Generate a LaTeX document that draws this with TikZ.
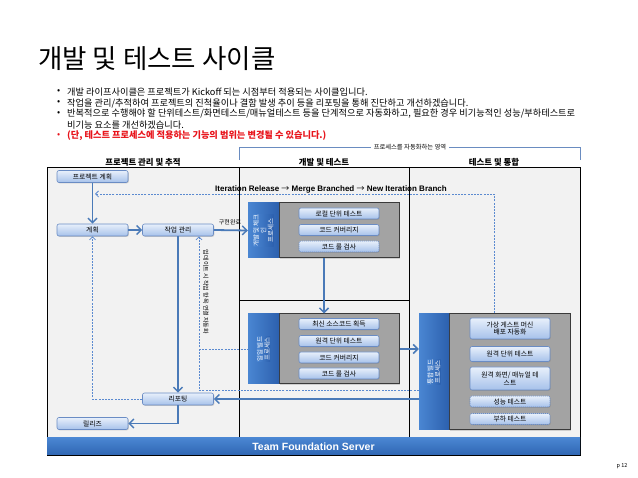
\documentclass[tikz,border=0pt]{standalone}
\usepackage{fontspec}
\setmainfont{Noto Sans CJK KR}
\newfontfamily\lat{Liberation Sans}
\usetikzlibrary{arrows.meta,shadows,calc}
\definecolor{boxtop}{HTML}{E8F0FB}
\definecolor{boxbot}{HTML}{A6C1EA}
\definecolor{boxborder}{HTML}{6A8CC4}
\definecolor{bandl}{HTML}{4A86D2}
\definecolor{bandr}{HTML}{2C60AE}
\definecolor{grayfill}{HTML}{A3A3A3}
\definecolor{grayedge}{HTML}{3A3A3A}
\definecolor{arrowcol}{HTML}{4A7AB8}
\definecolor{dashcol}{HTML}{5B8AD0}
\definecolor{bgcol}{HTML}{F2F2F2}
\definecolor{redtxt}{HTML}{E8141B}
\definecolor{barcol}{HTML}{2F66B3}
\definecolor{bracketcol}{HTML}{6A8CC0}
\tikzset{
  box/.style={draw=boxborder, line width=0.6pt, rounded corners=2pt, top color=boxtop, bottom color=boxbot,
    minimum width=80pt, minimum height=11pt, inner sep=0pt, align=center,
    font=\fontsize{6.8}{7.6}\selectfont,
    drop shadow={shadow xshift=0.8pt, shadow yshift=-0.8pt, opacity=0.35}},
  lbox/.style={box, minimum width=71pt, minimum height=12pt},
  optbox/.style={box, dash pattern=on 1.2pt off 0.8pt},
  band/.style={draw=none, left color=bandl, right color=bandr, inner sep=0pt, text=white,
    font=\fontsize{6.5}{7.3}\selectfont, align=center},
  graybox/.style={draw=grayedge, fill=grayfill, line width=1pt, inner sep=0pt,
    drop shadow={shadow xshift=1pt, shadow yshift=-1pt, opacity=0.3}},
  solidarr/.style={draw=arrowcol, line width=1.8pt, -{Straight Barb[length=4.5pt,width=9pt,line width=1.5pt]}},
  solidln/.style={draw=arrowcol, line width=1.8pt},
  dasharr/.style={draw=dashcol, line width=0.8pt, dash pattern=on 2pt off 1.2pt, -{Straight Barb[length=3pt,width=6pt]}},
  dashln/.style={draw=dashcol, line width=0.8pt, dash pattern=on 2pt off 1.2pt},
  hdr/.style={font=\fontsize{8.4}{9}\selectfont\bfseries, inner sep=0pt},
  bullet/.style={anchor=west, inner sep=0pt, font=\fontsize{9.2}{10.5}\selectfont},
}
\begin{document}
\begin{tikzpicture}[x=1pt,y=-1pt]
\useasboundingbox (0,0) rectangle (638,478);
\fill[white] (0,0) rectangle (638,478);

% title
\node[anchor=west, inner sep=0pt, font=\fontsize{26.5}{30}\selectfont] (title) at (38,59) {개발 및 테스트 사이클};

% bullets
\node[bullet] (b1d) at (57,92) {•};
\node[bullet] (b1) at (67,92) {개발 라이프사이클은 프로젝트가 Kickoff 되는 시점부터 적용되는 사이클입니다.};
\node[bullet] (b2d) at (57,103) {•};
\node[bullet] (b2) at (67,103) {작업을 관리/추적하여 프로젝트의 진척율이나 결함 발생 추이 등을 리포팅을 통해 진단하고 개선하겠습니다.};
\node[bullet] (b3d) at (57,114) {•};
\node[bullet] (b3) at (67,114) {반복적으로 수행해야 할 단위테스트/화면테스트/매뉴얼테스트 등을 단계적으로 자동화하고, 필요한 경우 비기능적인 성능/부하테스트로};
\node[bullet] (b3b) at (67,125) {비기능 요소를 개선하겠습니다.};
\node[bullet, text=redtxt] (b4d) at (57,136) {•};
\node[bullet, text=redtxt, font=\fontsize{9.2}{10.5}\selectfont\bfseries] (b4) at (67,136) {(단, 테스트 프로세스에 적용하는 기능의 범위는 변경될 수 있습니다.)};

% bracket
\draw[bracketcol, line width=0.8pt] (239,160) -- (239,147) -- (580,147) -- (580,160);
\node[fill=white, inner xsep=3pt, inner ysep=1pt, font=\fontsize{6.3}{7}\selectfont] (brk) at (410,147) {프로세스를 자동화하는 영역};

% headers
\node[hdr] (h1) at (143,162) {프로젝트 관리 및 추적};
\node[hdr] (h2) at (324,162) {개발 및 테스트};
\node[hdr] (h3) at (494,162) {테스트 및 통합};

% frame
\draw[fill=bgcol, line width=0.8pt] (47,167) rectangle (580,455);
\draw[line width=0.8pt] (239,167) -- (239,438);
\draw[line width=0.8pt] (409,167) -- (409,438);
\draw[line width=0.8pt] (239,300) -- (409,300);

% bottom bar
\node[top color=bandl, bottom color=barcol, minimum width=533pt, minimum height=17pt, inner sep=0pt,
  text=white, font=\lat\fontsize{10.5}{12}\selectfont\bfseries] (tfs) at (313.5,446.5) {Team Foundation Server};

% iteration text
\node[font=\lat\fontsize{8}{9}\selectfont\bfseries, inner sep=0pt] (iter) at (331,189)
  {Iteration Release {\mdseries\fontspec{Noto Sans CJK KR}→} Merge Branched {\mdseries\fontspec{Noto Sans CJK KR}→}  New Iteration Branch};

% left column nodes
\node[lbox] (plan0) at (92.5,176.5) {프로젝트 계획};
\node[lbox] (plan) at (92.5,230) {계획};
\node[lbox] (task) at (178,230) {작업 관리};
\node[lbox] (report) at (178,399) {리포팅};
\node[lbox] (release) at (92.5,423.5) {릴리즈};

% dev & check-in group
\node[graybox, minimum width=120pt, minimum height=55pt] (devgray) at (339,230.5) {};
\node[band, minimum width=31pt, minimum height=55pt] (devband) at (263.5,230.5) {};
\node[band, rotate=90] (devtxt) at (devband.center) {개발 및 체크\\인\\프로세스};
\node[box] (d1) at (339,213.5) {로컬 단위 테스트};
\node[box] (d2) at (339,230) {코드 커버리지};
\node[optbox] (d3) at (339,246.5) {코드 룰 검사};

% daily build group
\node[graybox, minimum width=120pt, minimum height=70pt] (dailygray) at (339,349) {};
\node[band, minimum width=31pt, minimum height=70pt] (dailyband) at (263.5,349) {};
\node[band, rotate=90] (dailytxt) at (dailyband.center) {일일 빌드\\프로세스};
\node[box] (e1) at (339,324) {최신 소스코드 획득};
\node[box] (e2) at (339,341) {원격 단위 테스트};
\node[box] (e3) at (339,357.5) {코드 커버리지};
\node[box] (e4) at (339,373.5) {코드 룰 검사};

% integration build group
\node[graybox, minimum width=121pt, minimum height=116pt] (intgray) at (509.5,372) {};
\node[band, minimum width=30pt, minimum height=116pt] (intband) at (434,372) {};
\node[band, rotate=90] (inttxt) at (intband.center) {통합 빌드\\프로세스};
\node[box, minimum height=21pt] (f1) at (510,328.5) {가상 게스트 머신\\배포 자동화};
\node[box, minimum height=15pt] (f2) at (510,354) {원격 단위 테스트};
\node[box, minimum height=23pt] (f3) at (510,378.5) {원격 화면/ 매뉴얼 테\\스트};
\node[optbox] (f4) at (510,401.5) {성능 테스트};
\node[optbox] (f5) at (510,419) {부하 테스트};

% helper coordinates
\coordinate (cx) at (324,0);
\coordinate (dx) at (199,390);
\coordinate (ix) at (494,194);
\coordinate (ex) at (95,194);

% dashed connectors
\draw[dasharr] (intgray.north -| ix) -- (ix) -- (ex);
\draw[dasharr] (report.west) -| (plan.south);
\draw[dasharr] (intband.west |- dx) -- (dx) -- (dx |- task.south);
\draw[dashln] (dx |- dailyband.west) -- (dailyband.west);
\node[rotate=-90, inner sep=0pt, font=\fontsize{6}{7}\selectfont] (vtxt) at (206,292) {업데이트 시 작업 항목 연결 자동화};

% solid connectors
\draw[solidarr] (plan0.south) -- (plan.north);
\draw[solidarr] (plan.east) -- (task.west);
\draw[solidarr] (task.east) -- (devband.west);
\node[inner sep=0pt, font=\fontsize{6}{7}\selectfont] (lbl) at (230,222.5) {구현완료};
\draw[solidarr] (devgray.south -| cx) -- (dailygray.north -| cx);
\draw[solidarr] (dailygray.east) -- (dailygray.east -| intband.west);
\draw[solidarr] (task.south) -- (report.north);
\draw[solidarr] (intband.west |- report.east) -- (report.east);
\draw[solidarr] (report.south) |- (release.east);

% page number
\node[inner sep=0pt, font=\fontsize{5.5}{6}\selectfont] (pg) at (622,466) {p 12};
\end{tikzpicture}
\end{document}
